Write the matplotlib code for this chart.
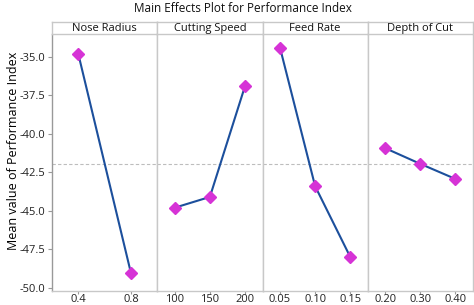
import matplotlib
matplotlib.use("Agg")
import matplotlib.pyplot as plt

plt.rcParams['font.family'] = ['Open Sans', 'DejaVu Sans']

# factor names, levels and the mean response
factors = ['Nose Radius', 'Cutting Speed', 'Feed Rate', 'Depth of Cut']
levels = [
    ['0.4', '0.8'],
    ['100', '150', '200'],
    ['0.05', '0.10', '0.15'],
    ['0.20', '0.30', '0.40'],
]
means = [
    [-34.8, -49.05],
    [-44.8, -44.1, -36.9],
    [-34.4, -43.4, -48.0],
    [-40.93, -41.95, -42.93],
]
grand_mean = -41.94
yticks = [-35.0, -37.5, -40.0, -42.5, -45.0, -47.5, -50.0]

line_col = '#1c4f9c'
mark_col = '#d633d6'
edge_col = '#c8c8c8'

fig = plt.figure(figsize=(4.74, 3.05), dpi=100)
left, right = 52 / 474, 473 / 474
bottom, top = 1 - 291 / 305, 1 - 34 / 305
strip_top = 1 - 22 / 305
w = (right - left) / len(factors)

for i, (name, lv, m) in enumerate(zip(factors, levels, means)):
    ax = fig.add_axes([left + i * w, bottom, w, top - bottom])
    x = list(range(len(lv)))
    ax.axhline(grand_mean, color='#bdbdbd', lw=0.8, ls=(0, (3, 2)), zorder=1)
    ax.plot(x, m, color=line_col, lw=1.5, zorder=2)
    ax.plot(x, m, ls='none', marker='D', ms=6, color=mark_col, zorder=3)
    ax.set_xlim(-0.5, len(lv) - 0.5)
    ax.set_ylim(-50.22, -33.5)
    ax.set_xticks(x)
    ax.set_xticklabels(lv, fontsize=8, color='#222222')
    ax.tick_params(axis='x', length=2, color='#999999', pad=0.5)
    for s in ax.spines.values():
        s.set_color(edge_col)
        s.set_linewidth(1.0)
    ax.spines['top'].set_visible(False)
    if i == 0:
        ax.set_yticks(yticks)
        ax.set_yticklabels(['%.1f' % v for v in yticks], fontsize=8,
                           color='#222222')
        ax.tick_params(axis='y', length=3, color='#999999', pad=2)
        ax.spines['left'].set_color('#999999')
        ax.set_ylabel('Mean value of Performance Index', fontsize=9)
        ax.yaxis.set_label_coords(-0.30, 0.547)
    else:
        ax.set_yticks([])

    # strip header
    sax = fig.add_axes([left + i * w, top, w, strip_top - top])
    sax.set_xticks([])
    sax.set_yticks([])
    for s in sax.spines.values():
        s.set_color(edge_col)
        s.set_linewidth(1.0)
    sax.text(0.5, 0.45, name, ha='center', va='center', fontsize=8,
             color='#111111', transform=sax.transAxes)

fig.text(243 / 474, 1 - 9 / 305, 'Main Effects Plot for Performance Index',
         ha='center', va='center', fontsize=8.5, color='#111111')

fig.savefig('out.png', dpi=100)
